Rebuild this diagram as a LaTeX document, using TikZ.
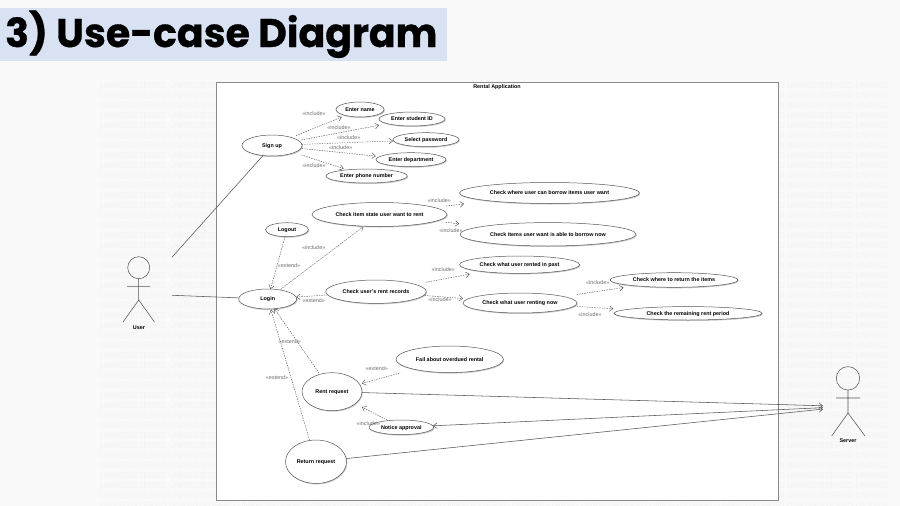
\documentclass[tikz,border=0pt]{standalone}
\usepackage{fontspec}
\setmainfont{Liberation Sans}
\newfontfamily\titlefont[BoldFeatures={FakeBold=0.8}]{Poppins}
\usetikzlibrary{shapes.geometric,arrows.meta,shadows}
\definecolor{pagebg}{HTML}{F9F9F9}
\definecolor{titlebg}{HTML}{D9E2F3}
\definecolor{wmark}{HTML}{F3F3F3}
\definecolor{edgecol}{HTML}{555555}
\definecolor{framecol}{HTML}{8A8A8A}
\definecolor{lblcol}{HTML}{6A6A6A}
\newcommand{\wmrow}{UNREGISTERED UNREGISTERED UNREGISTERED UNREGISTERED UNREGISTERED UNREGISTERED UNREGISTERED UNREGISTERED UNREGISTERED UNREGISTERED UNREGISTERED UNREGISTERED}
\tikzset{
  x=1pt,y=-1pt,
  ucase/.style 2 args={ellipse,draw=edgecol,fill=white,line width=0.5pt,inner sep=0pt,outer sep=0pt,
    minimum width=2*#1 pt,minimum height=2*#2 pt,text height=3.9pt,text depth=0pt,
    font=\fontsize{5.4}{6}\selectfont\bfseries,text=black,
    general shadow={fill=black!22,shadow xshift=0.8pt,shadow yshift=-1pt}},
  dep/.style={draw=edgecol,line width=0.45pt,dash pattern=on 1.4pt off 1.1pt,-{Straight Barb[length=3.6pt,width=5.5pt]}},
  assoc/.style={draw=edgecol,line width=0.55pt},
  assocarrow/.style={assoc,-{Straight Barb[length=3.6pt,width=5.5pt]}},
  stereo/.style={font=\fontsize{5.4}{6}\selectfont,text=lblcol,inner sep=0pt,text height=3.9pt,text depth=0pt},
  actorbox/.style={rectangle,draw=none,fill=none,inner sep=0pt,outer sep=0pt,minimum width=#1},
  actorline/.style={draw=edgecol,line width=0.55pt},
  actorname/.style={font=\fontsize{5.4}{6}\selectfont\bfseries,inner sep=0pt,text height=3.9pt,text depth=0pt},
  wm/.style={font=\fontsize{8.35}{9}\selectfont,text=wmark,inner sep=0pt,anchor=west},
}
\begin{document}
\begin{tikzpicture}
\useasboundingbox (0,0) rectangle (900,506);
\fill[pagebg] (0,0) rectangle (900,506);
% watermark
\begin{scope}
\clip (100,80) rectangle (888,506);
\foreach \r in {86,96,...,506}{
  \node[wm] (wm\r) at (100,\r) {\wmrow};
}
\end{scope}
% title
\fill[titlebg] (0,8) rectangle (447,61);
\node[font=\fontsize{40}{44}\selectfont\titlefont\bfseries,inner sep=0pt,anchor=base west,xscale=0.985] (title) at (5,47) {3) Use-case Diagram};
% frame
\node[rectangle,draw=framecol,fill=white,line width=0.8pt,inner sep=0pt,outer sep=0pt,minimum width=562pt,minimum height=418pt,anchor=north west] (frame) at (216,82) {};
\node[font=\fontsize{5.4}{6}\selectfont\bfseries,inner sep=0pt,text height=3.9pt,text depth=0pt] (frametitle) at (497,87) {Rental Application};

% use cases
\node[ucase={24}{7.5}] (name) at (360,109.5) {Enter name};
\node[ucase={33}{7}] (sid) at (412,119) {Enter student ID};
\node[ucase={33}{7}] (pass) at (426,139.7) {Select password};
\node[ucase={35}{7}] (dept) at (411,159.7) {Enter department};
\node[ucase={40.7}{7}] (phone) at (366.6,176) {Enter phone number};
\node[ucase={30}{10.5}] (signup) at (272,145.5) {Sign up};
\node[ucase={67.5}{12}] (item) at (379.5,214.5) {Check item state user want to rent};
\node[ucase={21.5}{7}] (logout) at (287,229.7) {Logout};
\node[ucase={90}{10.5}] (where) at (549.5,193) {Check where user can borrow items user want};
\node[ucase={88}{11.7}] (able) at (548,234.3) {Check items user want is able to borrow now};
\node[ucase={60}{8.7}] (past) at (519.6,264.7) {Check what user rented in past};
\node[ucase={57}{10}] (renting) at (520,303) {Check what user renting now};
\node[ucase={64}{7.3}] (return) at (674,280) {Check where to return the items};
\node[ucase={74}{6.7}] (remain) at (688,313.3) {Check the remaining rent period};
\node[ucase={50.3}{11.7}] (records) at (376,291.7) {Check user's rent records};
\node[ucase={29}{10}] (login) at (267.7,299) {Login};
\node[ucase={53.7}{13.3}] (fail) at (449.7,359.3) {Fail about overdued rental};
\node[ucase={30}{19}] (rent) at (332,391.7) {Rent request};
\node[ucase={32.3}{7.3}] (notice) at (401.3,427.3) {Notice approval};
\node[ucase={30.5}{21.7}] (retreq) at (316,461.7) {Return request};

% actors
\node[actorbox=66pt,minimum height=76pt] (user) at (139,294) {};
\draw[actorline] (138.7,267.7) circle (11);
\draw[actorline] (138.7,278.7) -- (138.7,300) (127,286.7) -- (150,286.7)
  (123,322) -- (138.7,300) -- (154.5,322);
\node[actorname] (userlabel) at (139,328) {User};
\node[actorbox=50pt,minimum height=80pt] (server) at (848,406.5) {};
\draw[actorline] (848,378.3) circle (11.7);
\draw[actorline] (848,390) -- (848,413) (836,398) -- (860,398)
  (831.7,436) -- (848,413) -- (865,436);
\node[actorname] (serverlabel) at (848,441) {Server};

% associations
\draw[assoc] (user) -- (signup);
\draw[assoc] (user) -- (login);
\draw[assocarrow] (rent) -- (server);
\draw[assocarrow] (retreq) -- (server);
\draw[assocarrow] (server) -- (notice);

% dependencies
\draw[dep,shorten <=5pt,shorten >=4pt] (signup) -- (name);
\draw[dep,shorten <=3pt,shorten >=8.5pt] (signup) -- (sid);
\draw[dep,shorten >=0.5pt] (signup) -- (pass);
\draw[dep,shorten <=1pt,shorten >=4pt] (signup) -- (dept);
\draw[dep,shorten <=8pt,shorten >=4pt] (signup) -- (phone);
\draw[dep,shorten <=11.6pt,shorten >=24.7pt] (item) -- (where);
\draw[dep,shorten <=10pt,shorten >=23pt] (item) -- (able);
\draw[dep,shorten <=1pt,shorten >=1pt] (login) -- (item);
\draw[dep] (logout) -- (login);
\draw[dep] (records) -- (login);
\draw[dep,shorten <=11pt,shorten >=13.5pt] (records) -- (past);
\draw[dep,shorten <=1pt,shorten >=5pt] (records) -- (renting);
\draw[dep,shorten <=13.5pt,shorten >=11.8pt] (renting) -- (return);
\draw[dep,shorten <=3pt,shorten >=13.4pt] (renting) -- (remain);
\draw[dep,shorten <=1.5pt] (rent) -- (login);
\draw[dep,shorten >=1pt] (retreq) -- (login);
\draw[dep,shorten <=15pt,shorten >=2.5pt] (fail) -- (rent);
\draw[dep,shorten <=1pt,shorten >=7.5pt] (notice) -- (rent);

% stereotypes
\node[stereo] (l1) at (314,114) {«include»};
\node[stereo] (l2) at (339,127.3) {«include»};
\node[stereo] (l3) at (348.7,137.3) {«include»};
\node[stereo] (l4) at (340.7,147.7) {«include»};
\node[stereo] (l5) at (314,166) {«include»};
\node[stereo] (l6) at (439.3,200.3) {«include»};
\node[stereo] (l7) at (451,230.7) {«include»};
\node[stereo] (l8) at (313.7,247.7) {«include»};
\node[stereo] (l9) at (289,265.7) {«extend»};
\node[stereo] (l10) at (313.7,301) {«extend»};
\node[stereo] (l11) at (443.3,270) {«include»};
\node[stereo] (l12) at (440,300) {«include»};
\node[stereo] (l13) at (597.7,282.7) {«include»};
\node[stereo] (l14) at (590,315) {«include»};
\node[stereo] (l15) at (289.7,341.3) {«extend»};
\node[stereo] (l16) at (277,377.7) {«extend»};
\node[stereo] (l17) at (376.7,368.3) {«extend»};
\node[stereo] (l18) at (368.3,423.7) {«include»};
\end{tikzpicture}
\end{document}
